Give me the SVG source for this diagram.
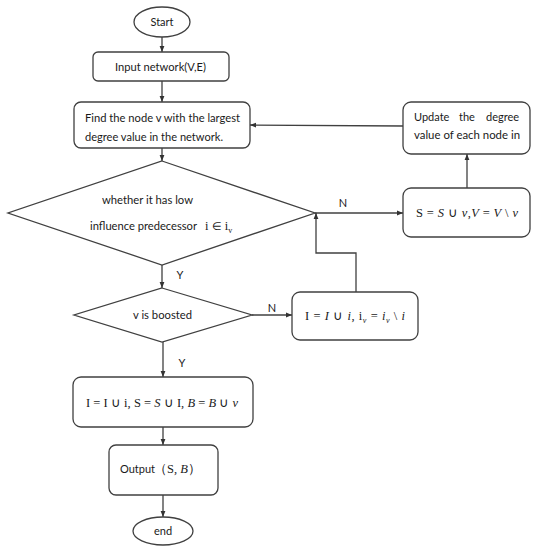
<svg xmlns="http://www.w3.org/2000/svg" width="537" height="550" viewBox="0 0 537 550">
<style>
.sh{fill:#fff;stroke:#404040;stroke-width:1.3}
.ln{fill:none;stroke:#404040;stroke-width:1.3}
.t{font-family:Lato,"Open Sans",sans-serif;font-size:11px;fill:#1a1a1a}
.m{font-family:"Liberation Serif",serif;font-size:12.5px;fill:#1a1a1a}
.i{font-style:italic}
</style>
<defs>
<marker id="ar" viewBox="0 0 10 10" refX="10" refY="5" markerWidth="6" markerHeight="6" markerUnits="userSpaceOnUse" orient="auto">
<path d="M0,1 L10,5 L0,9 z" fill="#333"/>
</marker>
</defs>
<g id="connectors" class="ln">
<line x1="162" y1="37" x2="162" y2="52" marker-end="url(#ar)"/>
<line x1="162" y1="81" x2="162" y2="102" marker-end="url(#ar)"/>
<line x1="162" y1="148" x2="162" y2="161" marker-end="url(#ar)"/>
<line x1="403" y1="126" x2="250" y2="125" marker-end="url(#ar)"/>
<line x1="315" y1="213" x2="403" y2="213" marker-end="url(#ar)"/>
<line x1="467" y1="188" x2="467" y2="154" marker-end="url(#ar)"/>
<line x1="162" y1="265" x2="162" y2="288" marker-end="url(#ar)"/>
<line x1="252" y1="315" x2="292" y2="315" marker-end="url(#ar)"/>
<polyline points="356,292 356,253 316,253 316,213" marker-end="url(#ar)"/>
<line x1="163" y1="342" x2="163" y2="377" marker-end="url(#ar)"/>
<line x1="163" y1="427" x2="163" y2="445" marker-end="url(#ar)"/>
<line x1="163" y1="495" x2="163" y2="517" marker-end="url(#ar)"/>
</g>
<g id="labels" class="t">
<text x="343" y="207" text-anchor="middle">N</text>
<text x="180" y="279" text-anchor="middle">Y</text>
<text x="272" y="312" text-anchor="middle">N</text>
<text x="182" y="367" text-anchor="middle">Y</text>
</g>
<g id="start">
<ellipse class="sh" cx="162" cy="22" rx="28" ry="15"/>
<text class="t" x="162" y="26" text-anchor="middle">Start</text>
</g>
<g id="input">
<rect class="sh" x="93" y="52" width="136" height="29" rx="5"/>
<text class="t" x="115" y="71" textLength="91" lengthAdjust="spacingAndGlyphs">Input network(V,E)</text>
</g>
<g id="find">
<rect class="sh" x="74" y="102" width="176" height="46" rx="7"/>
<text class="t" x="85" y="122" textLength="155" lengthAdjust="spacingAndGlyphs">Find the node v with the largest</text>
<text class="t" x="85" y="141" textLength="138" lengthAdjust="spacingAndGlyphs">degree value in the network.</text>
</g>
<g id="update">
<rect class="sh" x="403" y="102" width="127" height="52" rx="8"/>
<text class="t" y="121"><tspan x="414">Update</tspan><tspan x="459">the</tspan><tspan x="486">degree</tspan></text>
<text class="t" x="414" y="139" textLength="106" lengthAdjust="spacingAndGlyphs">value of each node in</text>
</g>
<g id="decision1">
<polygon class="sh" points="162,161 315,213 162,265 8,213"/>
<text class="t" x="102" y="204" textLength="91" lengthAdjust="spacingAndGlyphs">whether it has low</text>
<text class="t" x="90" y="230" textLength="107" lengthAdjust="spacingAndGlyphs">influence predecessor</text>
<text class="m" x="205" y="230">i <tspan font-size="11">∈</tspan> i<tspan font-size="8" dy="3">v</tspan></text>
</g>
<g id="update-s">
<rect class="sh" x="403" y="188" width="127" height="49" rx="8"/>
<text class="m" x="416" y="217" textLength="102" lengthAdjust="spacing">S = <tspan class="i">S</tspan> ∪ <tspan class="i">v</tspan>,<tspan class="i">V</tspan> = <tspan class="i">V</tspan> \ <tspan class="i">v</tspan></text>
</g>
<g id="decision2">
<polygon class="sh" points="162,288 252,315 162,342 74,315"/>
<text class="t" x="133" y="319" textLength="59" lengthAdjust="spacingAndGlyphs">v is boosted</text>
</g>
<g id="update-i">
<rect class="sh" x="292" y="292" width="126" height="48" rx="8"/>
<text class="m" x="305" y="320" textLength="100" lengthAdjust="spacing">I = <tspan class="i">I</tspan> ∪ <tspan class="i">i</tspan>,  i<tspan font-size="8" dy="3" class="i">v</tspan><tspan dy="-3"> = </tspan><tspan class="i">i</tspan><tspan font-size="8" dy="3" class="i">v</tspan><tspan dy="-3"> \ </tspan><tspan class="i">i</tspan></text>
</g>
<g id="assign">
<rect class="sh" x="73" y="377" width="180" height="50" rx="8"/>
<text class="m" x="86" y="407" textLength="152" lengthAdjust="spacing">I = I ∪ i, S = <tspan class="i">S</tspan> ∪ I, <tspan class="i">B</tspan> = <tspan class="i">B</tspan> ∪ <tspan class="i">v</tspan></text>
</g>
<g id="output">
<rect class="sh" x="109" y="445" width="109" height="50" rx="7"/>
<text x="120" y="473"><tspan class="t">Output</tspan><tspan class="m" x="154">（S, <tspan class="i">B</tspan>）</tspan></text>
</g>
<g id="end">
<ellipse class="sh" cx="163" cy="531" rx="30" ry="14"/>
<text class="t" x="163" y="535" text-anchor="middle">end</text>
</g>
</svg>
